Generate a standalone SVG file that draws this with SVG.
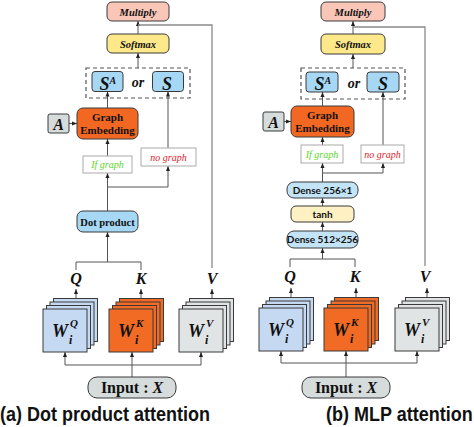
<svg xmlns="http://www.w3.org/2000/svg" width="474" height="427" viewBox="0 0 474 427">
<defs>
<marker id="ah" viewBox="0 0 10 10" refX="10" refY="5" markerWidth="5" markerHeight="5" markerUnits="userSpaceOnUse" orient="auto"><path d="M0,1 L10,5 L0,9 z" fill="#222"/></marker>
<style>
.box{stroke:#3a3a3a;stroke-width:1}
.c{fill:none;stroke:#555;stroke-width:1}
.cv{fill:none;stroke:#8a8a8a;stroke-width:1.3}
.a{marker-end:url(#ah)}
.tb{font-family:"Liberation Serif",serif;font-weight:bold;fill:#111;text-anchor:middle}
.ti{font-family:"Liberation Serif",serif;font-weight:bold;font-style:italic;fill:#111}
.sans{font-family:Lato,"Liberation Sans",sans-serif;font-weight:bold;fill:#111;text-anchor:middle;font-size:10px}
.cap{font-family:"Liberation Sans",sans-serif;font-weight:bold;font-size:18px;fill:#111}
.mul{fill:#f9c6b8}
.sm{fill:#fde98a}
.sb{fill:#a6d8f5}
.ge{fill:#f26822}
.ga{fill:#d6dbdb}
.wq{fill:#c6d9f3}
.wk{fill:#f26b24}
.wv{fill:#e1e4e4}
.lbl{fill:#fff;stroke:#aaa;stroke-width:1}
</style>
</defs>

<g id="connectors">
<!-- panel a -->
<path class="c a" d="M138,34 V21"/>
<path class="cv" d="M212,268 V25 H138"/>
<path class="c a" d="M138,68 V53"/>
<path class="c a" d="M107.5,108 V91.5"/>
<path class="c a" d="M168,148 V91.5"/>
<path class="c a" d="M69,123.5 H77"/>
<path class="c a" d="M107.5,156 V139"/>
<path class="c a" d="M107.5,211 V173"/>
<path class="c a" d="M107.5,187 H168 V166"/>
<path class="c" d="M76,270 V262 H141 V270"/>
<path class="c a" d="M107.5,262 V232"/>
<path class="c a" d="M76,298 V289"/>
<path class="c a" d="M141,298 V289"/>
<path class="c a" d="M212,298 V289"/>
<path class="c a" d="M132,377 V352"/>
<path class="c a" d="M132,365 H65 V352"/>
<path class="c a" d="M132,365 H201 V352"/>
<!-- panel b -->
<path class="c a" d="M353,34 V21"/>
<path class="cv" d="M425,266 V27 H353"/>
<path class="c a" d="M353,68 V54"/>
<path class="c a" d="M322.5,106 V92"/>
<path class="c a" d="M383,145 V92"/>
<path class="c a" d="M284,121.5 H291"/>
<path class="c a" d="M322.5,145 V137"/>
<path class="c a" d="M322.5,182 V163"/>
<path class="c a" d="M322.5,173 H383 V163"/>
<path class="c a" d="M322.5,206 V198"/>
<path class="c a" d="M322.5,231 V222"/>
<path class="c" d="M290,267 V259 H355 V267"/>
<path class="c a" d="M322.5,259 V248"/>
<path class="c a" d="M291,297 V288"/>
<path class="c a" d="M356,297 V288"/>
<path class="c a" d="M427,297 V288"/>
<path class="c a" d="M346,377 V351"/>
<path class="c a" d="M346,363 H281 V351"/>
<path class="c a" d="M346,363 H417 V351"/>
</g>

<!-- ===== Panel a ===== -->
<g id="a-multiply"><rect class="box mul" x="107" y="2" width="62" height="19" rx="5"/><text class="ti" x="138" y="15.5" font-size="10.5" text-anchor="middle">Multiply</text></g>
<g id="a-softmax"><rect class="box sm" x="107" y="34" width="62" height="19" rx="5"/><text class="ti" x="138" y="47.5" font-size="10.5" text-anchor="middle">Softmax</text></g>
<g id="a-choice">
<rect x="86" y="68" width="104" height="30" fill="none" stroke="#555" stroke-width="1.2" stroke-dasharray="4,3"/>
<rect class="box sb" x="92" y="71.5" width="31" height="20" rx="3"/>
<text class="ti" x="99.5" y="89.5" font-size="18">S</text><text class="ti" x="109.5" y="83.5" font-size="10">A</text>
<text class="ti" x="138" y="87" font-size="14" text-anchor="middle">or</text>
<rect class="box sb" x="152.5" y="71.5" width="31" height="20" rx="3"/>
<text class="ti" x="167" y="89.5" font-size="18" text-anchor="middle">S</text>
</g>
<g id="a-graph-embedding"><rect class="box ge" x="77" y="108" width="61" height="31" rx="6"/><text class="tb" x="107.5" y="121" font-size="11">Graph</text><text class="tb" x="107.5" y="133.5" font-size="11">Embedding</text></g>
<g id="a-A"><rect class="box ga" x="48" y="114" width="21" height="19" rx="2"/><text class="ti" x="58.5" y="129.5" font-size="16" text-anchor="middle">A</text></g>
<g id="a-ifgraph"><rect class="lbl" x="83" y="156" width="49" height="17"/><text x="107.5" y="168" font-family="Liberation Serif,serif" font-style="italic" font-size="10" fill="#5ed42a" text-anchor="middle">If graph</text></g>
<g id="a-nograph"><rect class="lbl" x="141" y="148" width="55" height="18"/><text x="168.5" y="161" font-family="Liberation Serif,serif" font-style="italic" font-size="10" fill="#e3212b" text-anchor="middle">no graph</text></g>
<g id="a-dotproduct"><rect class="box sb" x="77" y="211" width="61" height="21" rx="6"/><text class="tb" x="107.5" y="225.5" font-size="10.5">Dot product</text></g>
<g id="a-labels">
<text class="ti" x="76" y="284" font-size="16" text-anchor="middle">Q</text>
<text class="ti" x="141" y="284" font-size="16" text-anchor="middle">K</text>
<text class="ti" x="212" y="284" font-size="16" text-anchor="middle">V</text>
</g>
<g id="a-WQ">
<rect class="box wq" x="53.5" y="298.5" width="44" height="43"/><rect class="box wq" x="50" y="302" width="44" height="43"/><rect class="box wq" x="46.5" y="305.5" width="44" height="43"/><rect class="box wq" x="43" y="309" width="44" height="43"/>
<text class="ti" x="52" y="337" font-size="18">W</text><text class="ti" x="69" y="344" font-size="12">i</text><text class="ti" x="70" y="327" font-size="11">Q</text>
</g>
<g id="a-WK">
<rect class="box wk" x="119.5" y="298.5" width="44" height="43"/><rect class="box wk" x="116" y="302" width="44" height="43"/><rect class="box wk" x="112.5" y="305.5" width="44" height="43"/><rect class="box wk" x="109" y="309" width="44" height="43"/>
<text class="ti" x="118" y="337" font-size="18">W</text><text class="ti" x="135" y="344" font-size="12">i</text><text class="ti" x="136" y="327" font-size="11">K</text>
</g>
<g id="a-WV">
<rect class="box wv" x="189.5" y="298.5" width="44" height="43"/><rect class="box wv" x="186" y="302" width="44" height="43"/><rect class="box wv" x="182.5" y="305.5" width="44" height="43"/><rect class="box wv" x="179" y="309" width="44" height="43"/>
<text class="ti" x="188" y="337" font-size="18">W</text><text class="ti" x="205" y="344" font-size="12">i</text><text class="ti" x="206" y="327" font-size="11">V</text>
</g>
<g id="a-input"><rect class="box ga" x="88" y="377" width="88" height="21" rx="9"/><text class="tb" x="132" y="393" font-size="16">Input : <tspan font-style="italic">X</tspan></text></g>
<text class="cap" transform="translate(0,420.5) scale(1,1.12)" x="0" y="0">(a) Dot product attention</text>

<!-- ===== Panel b ===== -->
<g id="b-multiply"><rect class="box mul" x="321" y="2" width="64" height="19" rx="5"/><text class="ti" x="353" y="15.5" font-size="10.5" text-anchor="middle">Multiply</text></g>
<g id="b-softmax"><rect class="box sm" x="321" y="34" width="64" height="20" rx="5"/><text class="ti" x="353" y="48" font-size="10.5" text-anchor="middle">Softmax</text></g>
<g id="b-choice">
<rect x="301" y="68" width="104" height="31" fill="none" stroke="#555" stroke-width="1.2" stroke-dasharray="4,3"/>
<rect class="box sb" x="306" y="72" width="32" height="20" rx="3"/>
<text class="ti" x="314.5" y="90" font-size="18">S</text><text class="ti" x="324.5" y="84" font-size="10">A</text>
<text class="ti" x="354" y="87.5" font-size="14" text-anchor="middle">or</text>
<rect class="box sb" x="367" y="72" width="32" height="20" rx="3"/>
<text class="ti" x="383" y="90" font-size="18" text-anchor="middle">S</text>
</g>
<g id="b-graph-embedding"><rect class="box ge" x="291" y="106" width="63" height="31" rx="6"/><text class="tb" x="322.5" y="119" font-size="11">Graph</text><text class="tb" x="322.5" y="131.5" font-size="11">Embedding</text></g>
<g id="b-A"><rect class="box ga" x="263" y="112" width="21" height="19" rx="2"/><text class="ti" x="273.5" y="127.5" font-size="16" text-anchor="middle">A</text></g>
<g id="b-ifgraph"><rect class="lbl" x="301" y="145" width="42" height="18"/><text x="322" y="158" font-family="Liberation Serif,serif" font-style="italic" font-size="10" fill="#5ed42a" text-anchor="middle">If graph</text></g>
<g id="b-nograph"><rect class="lbl" x="361" y="145" width="43" height="18"/><text x="382.5" y="158" font-family="Liberation Serif,serif" font-style="italic" font-size="10" fill="#e3212b" text-anchor="middle">no graph</text></g>
<g id="b-dense1"><rect class="box" fill="#c3e4f6" x="287" y="182" width="71" height="16" rx="7"/><text class="sans" x="322.5" y="193.5">Dense 256×1</text></g>
<g id="b-tanh"><rect class="box" fill="#fdf1c4" x="291" y="206" width="63" height="16" rx="5"/><text class="sans" x="322.5" y="217.5">tanh</text></g>
<g id="b-dense2"><rect class="box" fill="#c3e4f6" x="287" y="231" width="71" height="17" rx="7"/><text class="sans" x="322.5" y="243">Dense 512×256</text></g>
<g id="b-labels">
<text class="ti" x="290" y="282" font-size="16" text-anchor="middle">Q</text>
<text class="ti" x="355" y="282" font-size="16" text-anchor="middle">K</text>
<text class="ti" x="425" y="282" font-size="16" text-anchor="middle">V</text>
</g>
<g id="b-WQ">
<rect class="box wq" x="269.5" y="297.5" width="44" height="43"/><rect class="box wq" x="266" y="301" width="44" height="43"/><rect class="box wq" x="262.5" y="304.5" width="44" height="43"/><rect class="box wq" x="259" y="308" width="44" height="43"/>
<text class="ti" x="268" y="336" font-size="18">W</text><text class="ti" x="285" y="343" font-size="12">i</text><text class="ti" x="286" y="326" font-size="11">Q</text>
</g>
<g id="b-WK">
<rect class="box wk" x="334.5" y="297.5" width="44" height="43"/><rect class="box wk" x="331" y="301" width="44" height="43"/><rect class="box wk" x="327.5" y="304.5" width="44" height="43"/><rect class="box wk" x="324" y="308" width="44" height="43"/>
<text class="ti" x="333" y="336" font-size="18">W</text><text class="ti" x="350" y="343" font-size="12">i</text><text class="ti" x="351" y="326" font-size="11">K</text>
</g>
<g id="b-WV">
<rect class="box wv" x="405.5" y="297.5" width="44" height="43"/><rect class="box wv" x="402" y="301" width="44" height="43"/><rect class="box wv" x="398.5" y="304.5" width="44" height="43"/><rect class="box wv" x="395" y="308" width="44" height="43"/>
<text class="ti" x="404" y="336" font-size="18">W</text><text class="ti" x="421" y="343" font-size="12">i</text><text class="ti" x="422" y="326" font-size="11">V</text>
</g>
<g id="b-input"><rect class="box ga" x="302" y="377" width="88" height="21" rx="9"/><text class="tb" x="346" y="393" font-size="16">Input : <tspan font-style="italic">X</tspan></text></g>
<text class="cap" transform="translate(326,420.5) scale(1,1.12)" x="0" y="0">(b) MLP attention</text>
</svg>
